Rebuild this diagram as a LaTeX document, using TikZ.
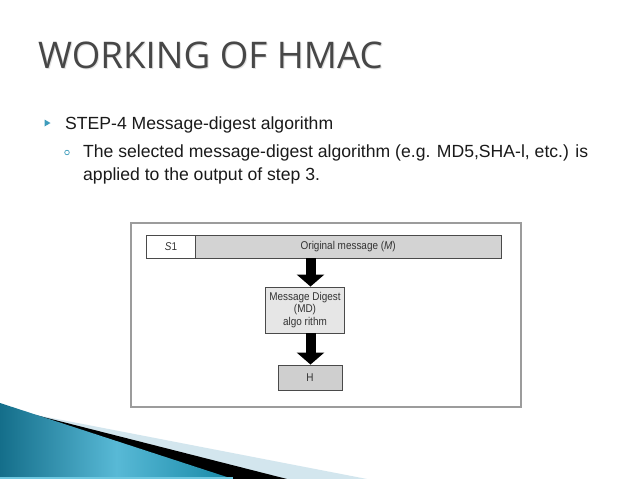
\documentclass[tikz,border=0pt]{standalone}
\usepackage{fontspec}
\setmainfont{Liberation Sans}
\newfontfamily\titlefont{Open Sans}
\newfontfamily\diagfont[FakeStretch=0.88]{Liberation Sans}
\usetikzlibrary{arrows.meta}
\definecolor{frameg}{HTML}{9C9C9C}
\definecolor{boxline}{HTML}{4A4A4A}
\definecolor{omfill}{HTML}{D3D3D3}
\definecolor{mdfill}{HTML}{E6E6E6}
\definecolor{hfill}{HTML}{CFCFCF}
\definecolor{titlegray}{HTML}{474747}
\definecolor{bodytext}{HTML}{1A1A1A}
\definecolor{bulletteal}{HTML}{3E9CBC}
\definecolor{tealdark}{HTML}{146E8A}
\definecolor{teallight}{HTML}{58B9D6}
\definecolor{tealedge}{HTML}{1688A6}
\definecolor{lightwedge}{HTML}{D3E6EE}
\definecolor{cyanstrip}{HTML}{6FC8E0}
\tikzset{
  diagbox/.style={draw=boxline, line width=0.9pt, inner sep=0pt, font=\diagfont\fontsize{11.3}{12.5}\selectfont, text=black!80, align=center},
  blockarrow/.style={line width=10pt, draw=black, -{Triangle[width=27pt,length=12pt]}},
  bodyline/.style={anchor=base west, inner sep=0pt, font=\fontsize{17.6}{22}\selectfont, text=bodytext}
}
\begin{document}
\begin{tikzpicture}[x=1pt,y=-1pt]
\useasboundingbox[fill=white] (0,0) rectangle (638,479);
% title
\node[anchor=base west, inner sep=0pt, font=\titlefont\fontsize{36.7}{40}\selectfont, text=black!12] at (39,69) {WORKING OF HMAC};
\node[anchor=base west, inner sep=0pt, font=\titlefont\fontsize{36.7}{40}\selectfont, text=titlegray] (title) at (38,68) {WORKING OF HMAC};
% bullets
\fill[bulletteal] (44.5,119.5) -- (50.5,123) -- (44.5,126.5) -- cycle;
\draw[bulletteal, line width=0.7pt] (67,152.5) circle (2.3);
\node[bodyline] (l1) at (65,129) {STEP-4 Message-digest algorithm};
\node[bodyline] (l2) at (83,157) {The selected message-digest algorithm (e.g. MD5,SHA-l, etc.) is};
\node[bodyline] (l3) at (83,180) {applied to the output of step 3.};
% diagram frame
\draw[frameg, line width=1.2pt] (131,223) rectangle (521,407);
\node[diagbox, fill=white, minimum width=48.5pt, minimum height=23pt] (s1) at (171,246.5) {\textit{S}1};
\node[diagbox, fill=omfill, minimum width=306pt, minimum height=23pt] (om) at (348.25,246.5) {Original message (\textit{M})};
\node[diagbox, fill=mdfill, minimum width=79pt, minimum height=46pt] (md) at (305,310) {Message Digest\\(MD)\\algo rithm};
\node[diagbox, fill=hfill, minimum width=64pt, minimum height=25pt] (h) at (310,377.5) {H};
\coordinate (axis) at (310.5,0);
\draw[blockarrow] (om.south -| axis) -- (md.north -| axis);
\draw[blockarrow] (md.south -| axis) -- (h.north -| axis);
% bottom-left decoration
\fill[lightwedge] (0,408) -- (367,479) -- (0,479) -- cycle;
\fill[black] (0,406) -- (287,479) -- (0,479) -- cycle;
\shade[left color=tealdark, right color=tealedge, middle color=teallight] (0,403) -- (233,479) -- (0,479) -- cycle;
\fill[cyanstrip] (0,476.5) rectangle (233,479);
\end{tikzpicture}
\end{document}
